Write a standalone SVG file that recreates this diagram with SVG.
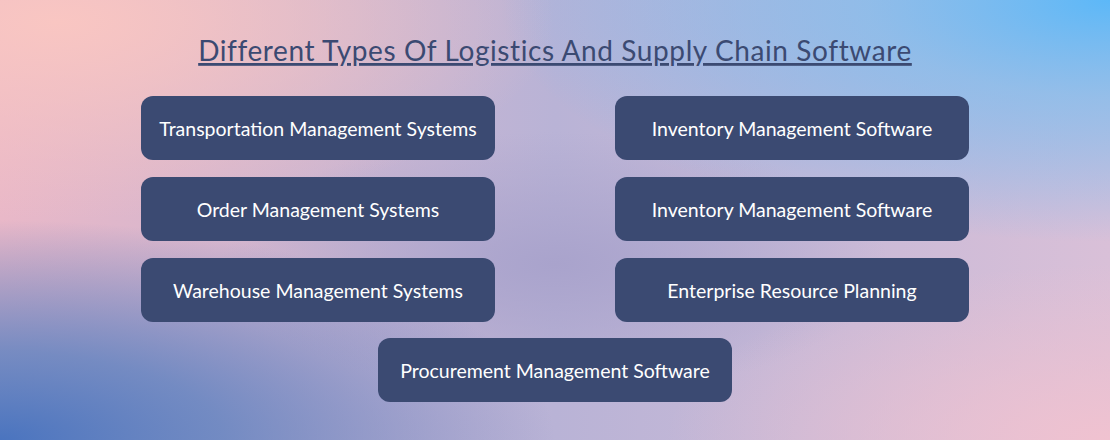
<svg xmlns="http://www.w3.org/2000/svg" width="1110" height="440" viewBox="0 0 1110 440">
<defs>
<linearGradient id="base" x1="0" y1="0" x2="1" y2="0"><stop offset="0" stop-color="#e9b8c8"/><stop offset="0.5" stop-color="#b9b3d6"/><stop offset="1" stop-color="#d9c0d8"/></linearGradient>
<radialGradient id="tl" cx="0.05" cy="0.05" r="0.45"><stop offset="0" stop-color="#f9c6c2"/><stop offset="1" stop-color="#f9c6c2" stop-opacity="0"/></radialGradient>
<radialGradient id="tr" cx="1" cy="0" r="0.55"><stop offset="0" stop-color="#5cb8f8"/><stop offset="0.4" stop-color="#78bdf0" stop-opacity="0.7"/><stop offset="1" stop-color="#5cb8f8" stop-opacity="0"/></radialGradient>
<radialGradient id="bl" cx="0" cy="1" r="0.5"><stop offset="0" stop-color="#4a74bf"/><stop offset="0.4" stop-color="#5a80c0" stop-opacity="0.8"/><stop offset="1" stop-color="#4a74bf" stop-opacity="0"/></radialGradient>
<radialGradient id="br" cx="1" cy="1" r="0.4"><stop offset="0" stop-color="#f0c2d0"/><stop offset="1" stop-color="#f0c2d0" stop-opacity="0"/></radialGradient>
<radialGradient id="mid" cx="0.5" cy="0.6" r="0.3"><stop offset="0" stop-color="#a9a3cc"/><stop offset="1" stop-color="#a9a3cc" stop-opacity="0"/></radialGradient>
<style>
.b{fill:#3b4a72}
.t{fill:#fff;font-family:Lato,"Open Sans",sans-serif;font-size:19.5px;text-anchor:middle;dominant-baseline:central}
</style>
</defs>
<rect width="1110" height="440" fill="url(#base)"/>
<rect width="1110" height="440" fill="url(#mid)"/>
<rect width="1110" height="440" fill="url(#tl)"/>
<rect width="1110" height="440" fill="url(#tr)"/>
<rect width="1110" height="440" fill="url(#bl)"/>
<rect width="1110" height="440" fill="url(#br)"/>
<g id="title"><text x="555" y="61" text-anchor="middle" font-family="Lato,'Open Sans',sans-serif" font-size="28" letter-spacing="0.6" fill="#3b4a72" text-decoration="underline">Different Types Of Logistics And Supply Chain Software</text></g>
<g id="n1"><rect class="b" x="141" y="96" width="354" height="64" rx="12"/><text class="t" x="318" y="128">Transportation Management Systems</text></g>
<g id="n2"><rect class="b" x="615" y="96" width="354" height="64" rx="12"/><text class="t" x="792" y="128">Inventory Management Software</text></g>
<g id="n3"><rect class="b" x="141" y="177" width="354" height="64" rx="12"/><text class="t" x="318" y="209">Order Management Systems</text></g>
<g id="n4"><rect class="b" x="615" y="177" width="354" height="64" rx="12"/><text class="t" x="792" y="209">Inventory Management Software</text></g>
<g id="n5"><rect class="b" x="141" y="258" width="354" height="64" rx="12"/><text class="t" x="318" y="290">Warehouse Management Systems</text></g>
<g id="n6"><rect class="b" x="615" y="258" width="354" height="64" rx="12"/><text class="t" x="792" y="290">Enterprise Resource Planning</text></g>
<g id="n7"><rect class="b" x="378" y="338" width="354" height="64" rx="12"/><text class="t" x="555" y="370">Procurement Management Software</text></g>
<g id="connectors"></g>
</svg>
